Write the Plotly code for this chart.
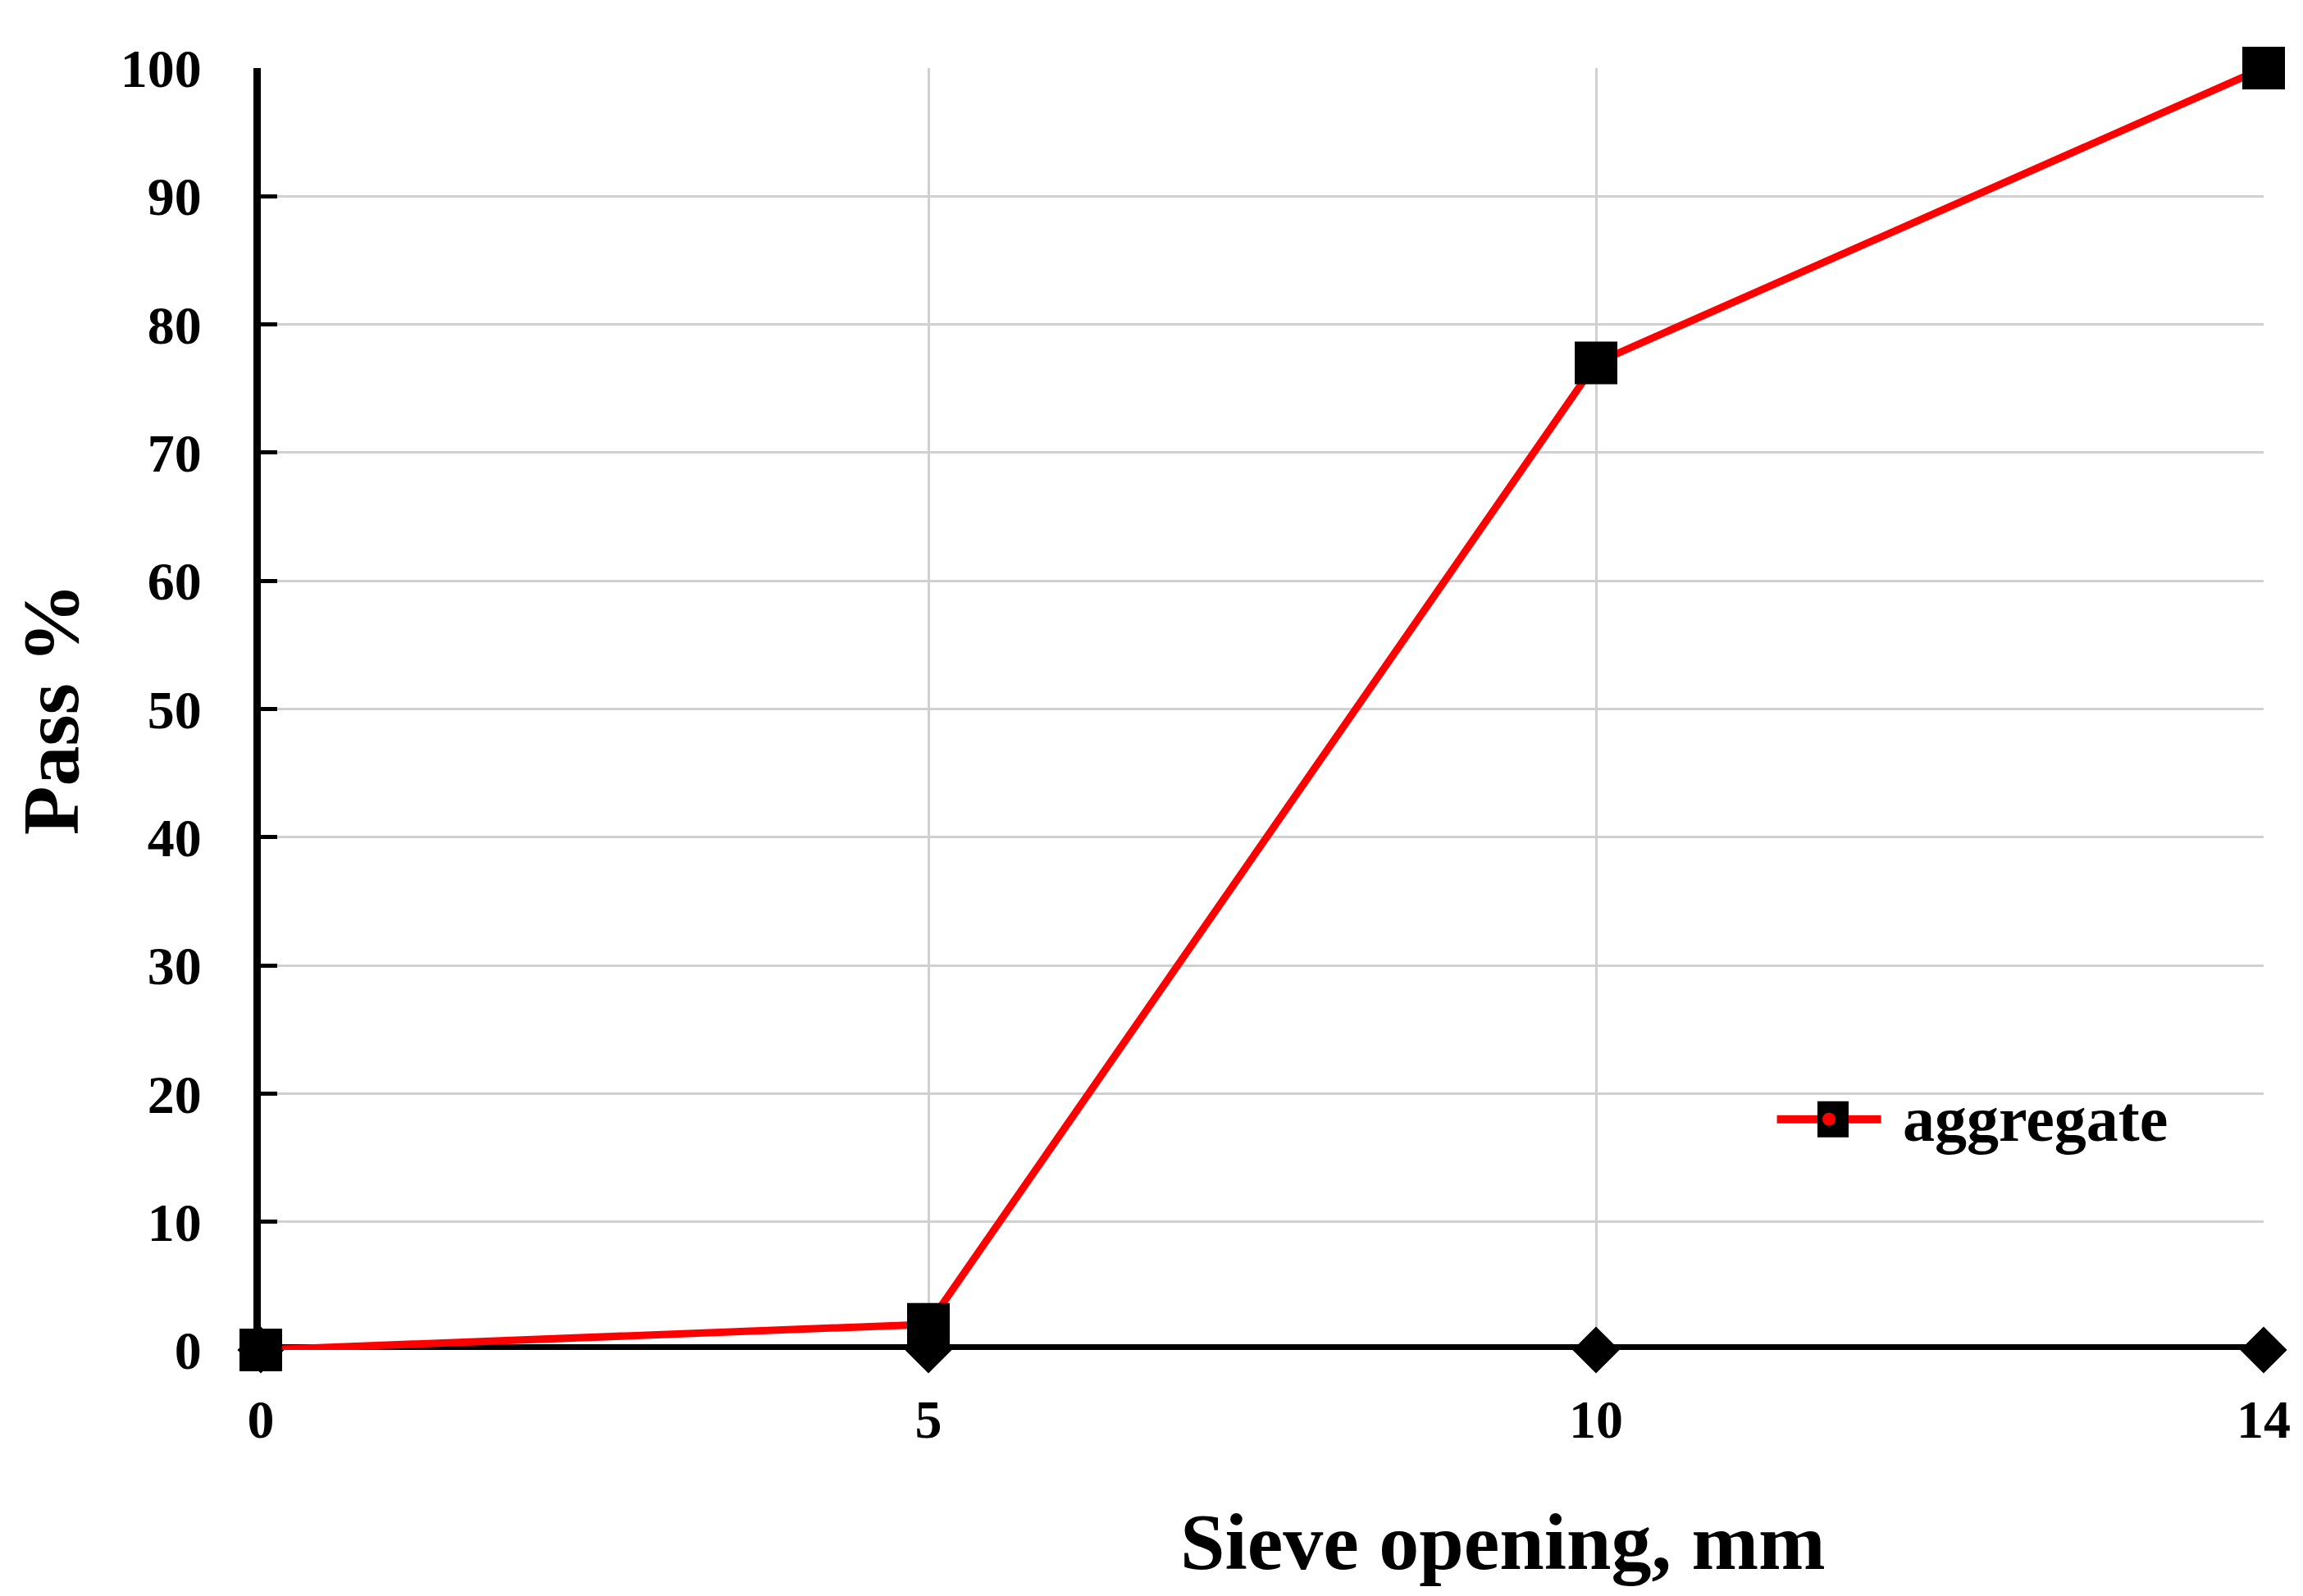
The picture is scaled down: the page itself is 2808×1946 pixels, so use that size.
import plotly.graph_objects as go

# sieve openings (mm) - plotted as evenly spaced categories
sieve_labels = ["0", "5", "10", "14"]
positions = [0, 1, 2, 3]

# percent passing
aggregate_pass = [0, 2, 77, 100]
baseline = [0, 0, 0, 0]

y_ticks = [0, 10, 20, 30, 40, 50, 60, 70, 80, 90, 100]

FONT = "Liberation Serif"

fig = go.Figure()

# black zero line with diamonds (drawn under the aggregate curve)
fig.add_trace(go.Scatter(
    x=positions,
    y=baseline,
    mode="lines+markers",
    line=dict(color="black", width=14),
    marker=dict(symbol="diamond", size=44, color="black"),
    showlegend=False,
    cliponaxis=False,
))

fig.add_trace(go.Scatter(
    x=positions,
    y=aggregate_pass,
    mode="lines+markers",
    name="aggregate",
    line=dict(color="#ff0000", width=9),
    marker=dict(symbol="square", size=52, color="black"),
    showlegend=False,
    cliponaxis=False,
))

# legend swatch drawn large like the original (plotly caps legend symbol size)
legend_shapes = [
    dict(type="line", xref="paper", yref="paper",
         x0=0.757, x1=0.809, y0=0.18, y1=0.18,
         line=dict(color="#ff0000", width=10)),
    dict(type="rect", xref="paper", yref="paper",
         xsizemode="pixel", ysizemode="pixel", xanchor=0.785, yanchor=0.18,
         x0=-19, x1=19, y0=-22, y1=22,
         fillcolor="black", line=dict(width=0)),
    dict(type="circle", xref="paper", yref="paper",
         xsizemode="pixel", ysizemode="pixel", xanchor=0.783, yanchor=0.18,
         x0=-8, x1=8, y0=-8, y1=8,
         fillcolor="#ff0000", line=dict(width=0)),
]

fig.update_layout(
    width=2808,
    height=1946,
    margin=dict(l=308, r=56, t=75, b=308),
    paper_bgcolor="white",
    plot_bgcolor="white",
    font=dict(family=FONT, color="black", size=66),
    shapes=legend_shapes,
    annotations=[
        dict(
            text="<b>aggregate</b>",
            xref="paper", yref="paper",
            x=0.819, y=0.18, xanchor="left", yanchor="middle",
            showarrow=False,
            font=dict(family=FONT, size=78, color="black"),
        ),
        dict(
            text="<b>Sieve opening, mm</b>",
            xref="paper", yref="paper",
            x=0.62, y=-0.15, xanchor="center", yanchor="middle",
            showarrow=False,
            font=dict(family=FONT, size=98, color="black"),
        ),
    ],
)

fig.update_xaxes(
    range=[0, 3],
    tickvals=positions,
    ticktext=sieve_labels,
    showgrid=True,
    gridcolor="#d0d0d0",
    gridwidth=3,
    zeroline=False,
    showline=False,
    ticks="",
    ticklabelstandoff=40,
    tickfont=dict(family=FONT, size=66, weight="bold"),
)

fig.update_yaxes(
    range=[0, 100],
    tickvals=y_ticks,
    showgrid=True,
    gridcolor="#d0d0d0",
    gridwidth=3,
    zeroline=False,
    showline=True,
    linecolor="black",
    linewidth=9,
    ticks="inside",
    ticklen=20,
    tickwidth=5,
    tickcolor="black",
    ticklabelstandoff=50,
    tickfont=dict(family=FONT, size=66, weight="bold"),
    title=dict(
        text="<b>Pass %</b>",
        font=dict(family=FONT, size=98),
        standoff=58,
    ),
)

fig.write_html("out.html")
